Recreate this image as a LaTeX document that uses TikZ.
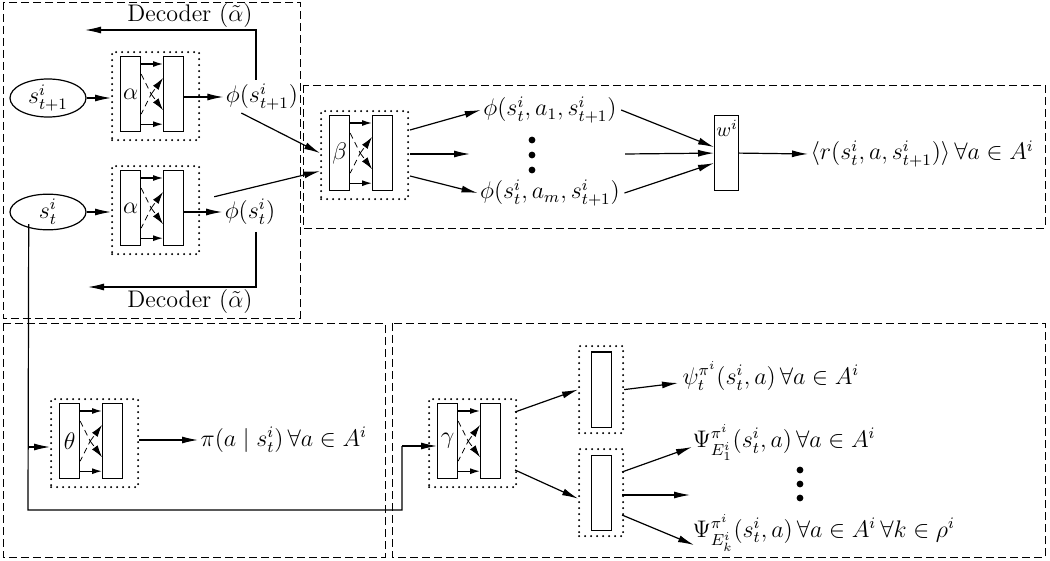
\documentclass[tikz,border=0pt]{standalone}
\usepackage{amsmath,amssymb}
\usetikzlibrary{arrows.meta,shapes.geometric,calc}
\tikzset{
  box/.style={draw,thin,dash pattern=on 4pt off 2pt},
  dot/.style={draw,line width=1.1pt,dash pattern=on 0pt off 3pt,line cap=round},
  lay/.style={draw,semithick,minimum width=10pt,minimum height=37.5pt,inner sep=0},
  arr/.style={-{Latex[length=8pt,width=3.5pt]}},
  sarr/.style={-{Latex[length=5pt,width=3pt]}},
  lbl/.style={inner sep=1pt,font=\large},
}
\newcommand\netblk[4]{% name, x, y (top-left of dotted box), label
  \node[dot,minimum width=43.5pt,minimum height=44pt,inner sep=0,anchor=north west] (#1) at (#2,#3) {};
  \node[lay,anchor=north west] (#1a) at ($(#1.north west)+(9,5)$) {\large$#4$};
  \node[lay,anchor=north west] (#1b) at ($(#1.north west)+(52,5)$) {};
  \draw[sarr] ($(#1a.north east)+(0,8)$) -- ($(#1b.north west)+(0,8)$);
  \draw[sarr] ($(#1a.south east)+(0,-8)$) -- ($(#1b.south west)+(0,-8)$);
  \draw[densely dashed,thin] ($(#1a.east)+(0,-20)$) -- ($(#1a.east)+(10,0)$) -- ($(#1a.east)+(0,20)$);
  \draw[densely dashed,thin,-{Latex[length=6pt,width=3.5pt]}] ($(#1a.east)+(10,0)$) -- ($(#1b.west)+(0,-16)$);
  \draw[densely dashed,thin,-{Latex[length=6pt,width=3.5pt]}] ($(#1a.east)+(10,0)$) -- ($(#1b.west)+(0,16)$);
}
\begin{document}
\begin{tikzpicture}[x=0.5pt,y=-0.5pt,semithick]
\useasboundingbox (0,0) rectangle (1050,561);
\draw[box] (3,2) rectangle (300,318);
\draw[box] (303,85) rectangle (1045,228);
\draw[box] (3,323) rectangle (385,557);
\draw[box] (392,323) rectangle (1045,557);

\node[ellipse,draw,semithick,minimum width=38pt,minimum height=17pt,inner sep=0] (s1) at (48,98) {\large$s^i_{t+1}$};
\node[ellipse,draw,semithick,minimum width=38pt,minimum height=17pt,inner sep=0] (s0) at (48,212) {\large$s^i_t$};

\netblk{A}{111}{51}{\alpha}
\netblk{B}{111}{165}{\alpha}
\netblk{C}{320}{110}{\beta}
\netblk{T}{50}{398}{\theta}
\netblk{G}{428}{398}{\gamma}

\draw[arr] (s1) -- (A.west|-s1);
\draw[arr] (s0) -- (B.west|-s0);

\node[lbl] (p1) at (262,97) {$\phi(s^i_{t+1})$};
\node[lbl] (p0) at (250,212) {$\phi(s^i_t)$};
\draw[arr] (Ab.east|-p1) -- (p1.west);
\draw[arr] (Bb.east|-p0) -- (p0.west);

\coordinate (d1) at (85,30);
\coordinate (d0) at (88,287);
\draw[arr] (256,80) -- (256,30) -- (d1);
\draw[arr] (256,232) -- (256,287) -- (d0);
\node[lbl] (dl1) at (190,16) {Decoder $(\tilde\alpha)$};
\node[lbl] (dl0) at (190,302) {Decoder $(\tilde\alpha)$};

\draw[arr] (p1.south west)++(18,0) -- ($(C.west)+(0,-2)$);
\draw[arr] (p0.north west)++(-8,0) -- ($(C.west)+(0,16)$);

\node[lbl] (q1) at (550,110) {$\phi(s^i_t,a_1,s^i_{t+1})$};
\node[lbl] (q2) at (550,193) {$\phi(s^i_t,a_m,s^i_{t+1})$};
\node[circle,fill,inner sep=1.2pt] (e1) at (532,140) {};
\node[circle,fill,inner sep=1.2pt] (e2) at (532,155) {};
\node[circle,fill,inner sep=1.2pt] (e3) at (532,170) {};
\coordinate (m1) at (470,154);
\coordinate (m2) at (625,154);
\draw[arr] (410,130) -- (q1.west);
\draw[arr] (410,154) -- (m1);
\draw[arr] (410,176) -- (q2.west);

\node[lay,minimum width=12pt,minimum height=37.5pt,anchor=north west] (W) at (714,115) {};
\node[inner sep=0] at (727,128) {$w^i$};
\draw[arr] (q1.east)++(2,0) -- ($(W.west)+(0,-6)$);
\draw[arr] (m2) -- (W.west);
\draw[arr] (q2.east)++(2,0) -- ($(W.west)+(0,10)$);
\node[lbl,anchor=west] (R) at (808,154) {$\langle r(s^i_t,a,s^i_{t+1})\rangle\,\forall a\in A^i$};
\draw[arr] (W.east) -- (R.west);

\node[lbl,anchor=west] (P) at (198,440) {$\pi(a\mid s^i_t)\,\forall a\in A^i$};
\draw[arr] (T.east|-P) -- (P.west);

\coordinate (j) at (28,447);
\draw (s0.south west)++(8,-1) -- (28,510) -- (402,510) -- (402,446);
\draw[arr] (j) -- (T.west|-j);
\draw[arr] (402,446) -- (Ga.west|-0,446);

\node[dot,minimum width=22pt,minimum height=43.5pt,inner sep=0,anchor=north west] (U) at (578,345) {};
\node[lay,minimum width=10pt,minimum height=37.5pt] (Ur) at (U) {};
\node[dot,minimum width=22pt,minimum height=43.5pt,inner sep=0,anchor=north west] (V) at (578,448) {};
\node[lay,minimum width=10pt,minimum height=37.5pt] (Vr) at (V) {};
\draw[arr] (515,412) -- (U.west);
\draw[arr] (515,470) -- ($(V.west)+(0,6)$);

\node[lbl,anchor=west] (Y1) at (680,376) {$\psi^{\pi^i}_t(s^i_t,a)\,\forall a\in A^i$};
\draw[arr] (U.east) -- (678,383);
\node[lbl,anchor=west] (Y2) at (690,443) {$\Psi^{\pi^i}_{E^i_1}(s^i_t,a)\,\forall a\in A^i$};
\node[lbl,anchor=west] (Y3) at (690,533) {$\Psi^{\pi^i}_{E^i_k}(s^i_t,a)\,\forall a\in A^i\,\forall k\in\rho^i$};
\node[circle,fill,inner sep=1.2pt] (f1) at (800,470) {};
\node[circle,fill,inner sep=1.2pt] (f2) at (800,484) {};
\node[circle,fill,inner sep=1.2pt] (f3) at (800,498) {};
\coordinate (n1) at (690,495);
\draw[arr] (622,472) -- (692,447);
\draw[arr] (622,495) -- (n1);
\draw[arr] (622,515) -- (694,545);
\end{tikzpicture}
\end{document}
